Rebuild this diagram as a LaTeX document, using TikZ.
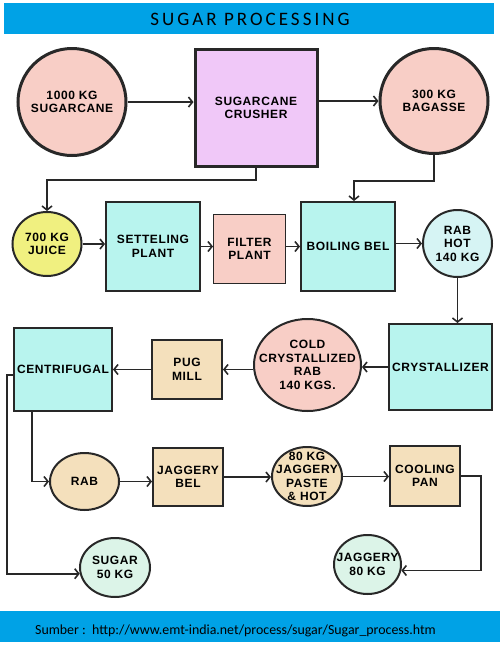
\documentclass[tikz,border=0pt]{standalone}
\usepackage{fontspec}
\setmainfont{Liberation Sans}
\newfontfamily\handfont{Carlito}
\usetikzlibrary{arrows.meta,shapes.geometric}

\definecolor{barblue}{RGB}{0,162,230}
\definecolor{rose}{RGB}{248,206,198}
\definecolor{lilac}{RGB}{240,200,248}
\definecolor{lemon}{RGB}{240,240,128}
\definecolor{aqua}{RGB}{184,244,238}
\definecolor{wheatc}{RGB}{244,224,188}
\definecolor{mint}{RGB}{220,244,232}
\definecolor{icec}{RGB}{214,244,244}
\definecolor{inkc}{RGB}{40,40,40}

\begin{document}
\begin{tikzpicture}[x=1pt,y=-1pt,
	font=\bfseries\fontsize{12}{13.5}\selectfont\addfontfeature{LetterSpace=5},
	pot/.style={ellipse,draw=inkc,line width=2pt,align=center,inner xsep=-15pt,inner ysep=-5pt},
	unit/.style={rectangle,draw=inkc,line width=2pt,align=center,inner sep=1pt},
	arr/.style={draw=inkc,line width=1.6pt,-{Straight Barb[length=4pt,width=10pt]}}]
	\useasboundingbox (0,0) rectangle (500,646);
	% header and footer
	\fill[barblue] (4,3) rectangle (494,34);
	\fill[barblue] (0,611) rectangle (500,642);
	\node[font=\handfont\fontsize{19}{19}\selectfont\addfontfeature{LetterSpace=16}] (title) at (250,19) {SUGAR PROCESSING};
	\node[font=\handfont\fontsize{13.9}{14}\selectfont] (src) at (235.5,631) {Sumber :~~http://www.emt-india.net/process/sugar/Sugar\_process.htm};
	% first row
	\node[pot,fill=rose,line width=3pt,minimum width=108,minimum height=107] (cane) at (72,102) {1000 KG\\SUGARCANE};
	\node[unit,fill=lilac,line width=3pt,minimum width=122,minimum height=117] (crush) at (256,108) {SUGARCANE\\CRUSHER};
	\node[pot,fill=rose,line width=3pt,minimum width=108,minimum height=105] (bag) at (434,101) {300 KG\\BAGASSE};
	% second row
	\node[pot,fill=lemon,minimum width=69,minimum height=64] (juice) at (47,244) {700 KG\\JUICE};
	\node[unit,fill=aqua,minimum width=94,minimum height=89] (settle) at (153,246.5) {SETTELING\\PLANT};
	\node[unit,fill=rose,line width=1pt,minimum width=72,minimum height=69] (filter) at (249.5,249) {FILTER\\PLANT};
	\node[unit,fill=aqua,minimum width=94,minimum height=89] (boil) at (348,246.5) {BOILING BEL};
	\node[pot,fill=icec,minimum width=69,minimum height=67] (rabhot) at (457.5,243.5) {RAB\\HOT\\140 KG};
	% third row
	\node[unit,fill=aqua,minimum width=103,minimum height=86] (cryst) at (440.5,367) {CRYSTALLIZER};
	\node[pot,fill=rose,minimum width=107,minimum height=92] (cold) at (307.5,365) {COLD\\CRYSTALLIZED\\RAB\\140 KGS.};
	\node[unit,fill=wheatc,minimum width=70,minimum height=59] (pug) at (187,369.5) {PUG\\MILL};
	\node[unit,fill=aqua,minimum width=98,minimum height=83] (centri) at (63,369.5) {CENTRIFUGAL};
	% fourth row
	\node[pot,fill=wheatc,minimum width=69,minimum height=57] (rab) at (84.5,481.5) {RAB};
	\node[unit,fill=wheatc,minimum width=70,minimum height=58] (jbel) at (188,477) {JAGGERY\\BEL};
	\node[pot,fill=wheatc,minimum width=70,minimum height=59] (paste) at (307,476.5) {80 KG\\JAGGERY\\PASTE\\\& HOT};
	\node[unit,fill=wheatc,minimum width=70,minimum height=60] (pan) at (425,476) {COOLING\\PAN};
	\node[pot,fill=mint,minimum width=70,minimum height=59] (sugar) at (115,567.5) {SUGAR\\50 KG};
	\node[pot,fill=mint,minimum width=67,minimum height=59] (jag) at (367.5,564.5) {JAGGERY\\80 KG};
	% connectors
	\foreach \a/\b in {cane/crush,juice/settle,rab/jbel,paste/pan} \draw[arr] (\a) -- (\a -| \b.west);
	\draw[arr] (crush.east |- bag) -- (bag);
	\draw[arr] (settle.east) -- (settle.east -| filter.west);
	\draw[arr] (filter.east |- boil) -- (boil.west);
	\draw[arr] (boil.east |- rabhot) -- (rabhot);
	\draw[arr] (cryst.west) -- (cryst.west -| cold.east);
	\draw[arr] (cold.west |- pug) -- (pug.east);
	\draw[arr] (pug.west) -- (pug.west -| centri.east);
	\draw[arr] (jbel.east) -- (jbel.east -| paste.west);
	\draw[arr] (crush.south) -- ++(0,12) -| (juice.north);
	\draw[arr] (bag.south) -- ++(0,26) -| ([xshift=6]boil.north);
	\draw[arr] (rabhot.south) -- (rabhot.south |- cryst.north);
	\draw[arr] ([yshift=-5.5]centri.west) -- ++(-6,0) |- (sugar.190);
	\draw[arr] ([xshift=19]centri.south west) |- (rab.west);
	\draw[arr] (pan.east) -- ++(20,0) |- (jag.350);
\end{tikzpicture}
\end{document}
